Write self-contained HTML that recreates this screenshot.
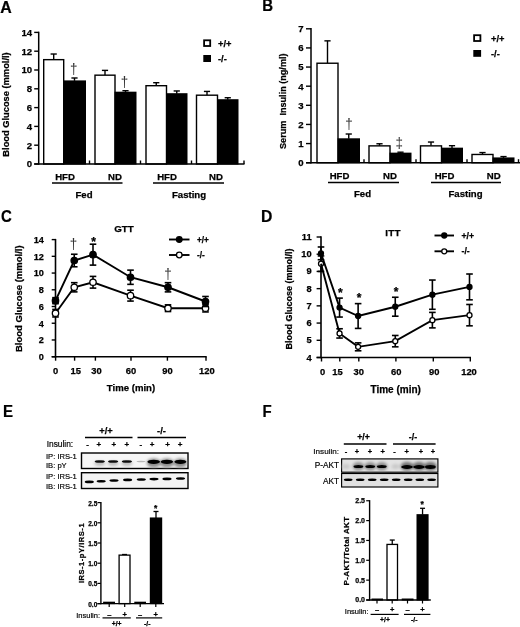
<!DOCTYPE html>
<html><head><meta charset="utf-8"><title>Figure</title>
<style>html,body{margin:0;padding:0;background:#fff}svg{display:block}text{font-family:"Liberation Sans",Arial,sans-serif}</style>
</head><body>
<svg width="520" height="627" viewBox="0 0 520 627">
<rect width="520" height="627" fill="#fff"/>
<text transform="translate(0.30,12.90) scale(1.06,1.05)" x="0" y="0" font-size="15" font-weight="bold" stroke="#000" stroke-width="0.2" text-anchor="start">A</text>
<line x1="53.70" y1="59.66" x2="53.70" y2="54.02" stroke="#000" stroke-width="1.4" stroke-linecap="butt"/>
<line x1="50.60" y1="54.02" x2="56.80" y2="54.02" stroke="#000" stroke-width="1.4" stroke-linecap="butt"/>
<rect x="43.70" y="59.66" width="20.00" height="104.34" fill="#fff" stroke="#000" stroke-width="1.4"/>
<line x1="74.50" y1="80.90" x2="74.50" y2="77.99" stroke="#000" stroke-width="1.4" stroke-linecap="butt"/>
<line x1="71.40" y1="77.99" x2="77.60" y2="77.99" stroke="#000" stroke-width="1.4" stroke-linecap="butt"/>
<rect x="63.00" y="80.40" width="23.00" height="84.10" fill="#000" stroke="none" stroke-width="0"/>
<line x1="105.00" y1="75.17" x2="105.00" y2="70.38" stroke="#000" stroke-width="1.4" stroke-linecap="butt"/>
<line x1="101.90" y1="70.38" x2="108.10" y2="70.38" stroke="#000" stroke-width="1.4" stroke-linecap="butt"/>
<rect x="95.00" y="75.17" width="20.00" height="88.83" fill="#fff" stroke="#000" stroke-width="1.4"/>
<line x1="125.50" y1="92.18" x2="125.50" y2="90.68" stroke="#000" stroke-width="1.4" stroke-linecap="butt"/>
<line x1="122.40" y1="90.68" x2="128.60" y2="90.68" stroke="#000" stroke-width="1.4" stroke-linecap="butt"/>
<rect x="114.50" y="91.68" width="22.00" height="72.82" fill="#000" stroke="none" stroke-width="0"/>
<line x1="156.25" y1="85.70" x2="156.25" y2="82.69" stroke="#000" stroke-width="1.4" stroke-linecap="butt"/>
<line x1="153.15" y1="82.69" x2="159.35" y2="82.69" stroke="#000" stroke-width="1.4" stroke-linecap="butt"/>
<rect x="146.00" y="85.70" width="20.50" height="78.30" fill="#fff" stroke="#000" stroke-width="1.4"/>
<line x1="176.75" y1="93.69" x2="176.75" y2="90.96" stroke="#000" stroke-width="1.4" stroke-linecap="butt"/>
<line x1="173.65" y1="90.96" x2="179.85" y2="90.96" stroke="#000" stroke-width="1.4" stroke-linecap="butt"/>
<rect x="166.00" y="93.19" width="21.50" height="71.31" fill="#000" stroke="none" stroke-width="0"/>
<line x1="207.00" y1="95.19" x2="207.00" y2="91.43" stroke="#000" stroke-width="1.4" stroke-linecap="butt"/>
<line x1="203.90" y1="91.43" x2="210.10" y2="91.43" stroke="#000" stroke-width="1.4" stroke-linecap="butt"/>
<rect x="196.50" y="95.19" width="21.00" height="68.81" fill="#fff" stroke="#000" stroke-width="1.4"/>
<line x1="227.75" y1="99.70" x2="227.75" y2="97.73" stroke="#000" stroke-width="1.4" stroke-linecap="butt"/>
<line x1="224.65" y1="97.73" x2="230.85" y2="97.73" stroke="#000" stroke-width="1.4" stroke-linecap="butt"/>
<rect x="217.00" y="99.20" width="21.50" height="65.30" fill="#000" stroke="none" stroke-width="0"/>
<line x1="38.70" y1="31.70" x2="38.70" y2="164.70" stroke="#000" stroke-width="1.5" stroke-linecap="butt"/>
<line x1="34.20" y1="164.00" x2="244.50" y2="164.00" stroke="#000" stroke-width="1.5" stroke-linecap="butt"/>
<line x1="34.20" y1="164.00" x2="38.70" y2="164.00" stroke="#000" stroke-width="1.4" stroke-linecap="butt"/>
<text x="32.10" y="167.40" font-size="9.6" font-weight="bold" stroke="#000" stroke-width="0.25" text-anchor="end" fill="#000" >0</text>
<line x1="34.20" y1="145.20" x2="38.70" y2="145.20" stroke="#000" stroke-width="1.4" stroke-linecap="butt"/>
<text x="32.10" y="148.60" font-size="9.6" font-weight="bold" stroke="#000" stroke-width="0.25" text-anchor="end" fill="#000" >2</text>
<line x1="34.20" y1="126.40" x2="38.70" y2="126.40" stroke="#000" stroke-width="1.4" stroke-linecap="butt"/>
<text x="32.10" y="129.80" font-size="9.6" font-weight="bold" stroke="#000" stroke-width="0.25" text-anchor="end" fill="#000" >4</text>
<line x1="34.20" y1="107.60" x2="38.70" y2="107.60" stroke="#000" stroke-width="1.4" stroke-linecap="butt"/>
<text x="32.10" y="111.00" font-size="9.6" font-weight="bold" stroke="#000" stroke-width="0.25" text-anchor="end" fill="#000" >6</text>
<line x1="34.20" y1="88.80" x2="38.70" y2="88.80" stroke="#000" stroke-width="1.4" stroke-linecap="butt"/>
<text x="32.10" y="92.20" font-size="9.6" font-weight="bold" stroke="#000" stroke-width="0.25" text-anchor="end" fill="#000" >8</text>
<line x1="34.20" y1="70.00" x2="38.70" y2="70.00" stroke="#000" stroke-width="1.4" stroke-linecap="butt"/>
<text x="32.10" y="73.40" font-size="9.6" font-weight="bold" stroke="#000" stroke-width="0.25" text-anchor="end" fill="#000" >10</text>
<line x1="34.20" y1="51.20" x2="38.70" y2="51.20" stroke="#000" stroke-width="1.4" stroke-linecap="butt"/>
<text x="32.10" y="54.60" font-size="9.6" font-weight="bold" stroke="#000" stroke-width="0.25" text-anchor="end" fill="#000" >12</text>
<line x1="34.20" y1="32.40" x2="38.70" y2="32.40" stroke="#000" stroke-width="1.4" stroke-linecap="butt"/>
<text x="32.10" y="35.80" font-size="9.6" font-weight="bold" stroke="#000" stroke-width="0.25" text-anchor="end" fill="#000" >14</text>
<line x1="89.50" y1="164.00" x2="89.50" y2="160.50" stroke="#000" stroke-width="1.4" stroke-linecap="butt"/>
<line x1="140.50" y1="164.00" x2="140.50" y2="160.50" stroke="#000" stroke-width="1.4" stroke-linecap="butt"/>
<line x1="191.50" y1="164.00" x2="191.50" y2="160.50" stroke="#000" stroke-width="1.4" stroke-linecap="butt"/>
<line x1="244.00" y1="164.00" x2="244.00" y2="160.50" stroke="#000" stroke-width="1.4" stroke-linecap="butt"/>
<text transform="translate(9.40,104.50) rotate(-90)" font-size="9.3" font-weight="bold" stroke="#000" stroke-width="0.25" text-anchor="middle" letter-spacing="0" xml:space="preserve">Blood Glucose (mmol/l)</text>
<text x="65.00" y="179.50" font-size="9.6" font-weight="bold" stroke="#000" stroke-width="0.25" text-anchor="middle" fill="#000" >HFD</text>
<text x="115.00" y="179.50" font-size="9.6" font-weight="bold" stroke="#000" stroke-width="0.25" text-anchor="middle" fill="#000" >ND</text>
<text x="167.00" y="179.50" font-size="9.6" font-weight="bold" stroke="#000" stroke-width="0.25" text-anchor="middle" fill="#000" >HFD</text>
<text x="216.00" y="179.50" font-size="9.6" font-weight="bold" stroke="#000" stroke-width="0.25" text-anchor="middle" fill="#000" >ND</text>
<line x1="52.00" y1="183.00" x2="122.50" y2="183.00" stroke="#000" stroke-width="1.3" stroke-linecap="butt"/>
<line x1="153.00" y1="183.00" x2="224.00" y2="183.00" stroke="#000" stroke-width="1.3" stroke-linecap="butt"/>
<text x="84.00" y="198.20" font-size="9.6" font-weight="bold" stroke="#000" stroke-width="0.25" text-anchor="middle" fill="#000" >Fed</text>
<text x="189.00" y="198.20" font-size="9.6" font-weight="bold" stroke="#000" stroke-width="0.25" text-anchor="middle" fill="#000" >Fasting</text>
<text transform="translate(73.80,62.60) scale(1.120,1.277)" x="0" y="8.65" font-size="12" text-anchor="middle" fill="#333">†</text>
<text transform="translate(124.60,75.80) scale(1.120,1.277)" x="0" y="8.65" font-size="12" text-anchor="middle" fill="#333">†</text>
<rect x="204.10" y="40.30" width="6.10" height="5.70" fill="#fff" stroke="#000" stroke-width="1.8"/>
<text x="218.00" y="47.30" font-size="9.3" font-weight="bold" stroke="#000" stroke-width="0.25" text-anchor="start" fill="#000" >+/+</text>
<rect x="203.30" y="55.00" width="7.70" height="7.00" fill="#000" stroke="none" stroke-width="0"/>
<text x="218.00" y="62.30" font-size="9.3" font-weight="bold" stroke="#000" stroke-width="0.25" text-anchor="start" fill="#000" >-/-</text>
<text transform="translate(262.20,10.90) scale(1.0,1.1)" x="0" y="0" font-size="15" font-weight="bold" stroke="#000" stroke-width="0.2" text-anchor="start">B</text>
<line x1="327.50" y1="63.23" x2="327.50" y2="40.85" stroke="#000" stroke-width="1.4" stroke-linecap="butt"/>
<line x1="324.40" y1="40.85" x2="330.60" y2="40.85" stroke="#000" stroke-width="1.4" stroke-linecap="butt"/>
<rect x="317.00" y="63.23" width="21.00" height="99.47" fill="#fff" stroke="#000" stroke-width="1.4"/>
<line x1="348.75" y1="138.79" x2="348.75" y2="134.01" stroke="#000" stroke-width="1.4" stroke-linecap="butt"/>
<line x1="345.65" y1="134.01" x2="351.85" y2="134.01" stroke="#000" stroke-width="1.4" stroke-linecap="butt"/>
<rect x="337.50" y="138.29" width="22.50" height="24.91" fill="#000" stroke="none" stroke-width="0"/>
<line x1="379.50" y1="145.87" x2="379.50" y2="143.76" stroke="#000" stroke-width="1.4" stroke-linecap="butt"/>
<line x1="376.40" y1="143.76" x2="382.60" y2="143.76" stroke="#000" stroke-width="1.4" stroke-linecap="butt"/>
<rect x="369.00" y="145.87" width="21.00" height="16.83" fill="#fff" stroke="#000" stroke-width="1.4"/>
<line x1="400.50" y1="153.14" x2="400.50" y2="152.18" stroke="#000" stroke-width="1.4" stroke-linecap="butt"/>
<line x1="397.40" y1="152.18" x2="403.60" y2="152.18" stroke="#000" stroke-width="1.4" stroke-linecap="butt"/>
<rect x="389.50" y="152.64" width="22.00" height="10.56" fill="#000" stroke="none" stroke-width="0"/>
<line x1="431.00" y1="145.87" x2="431.00" y2="142.04" stroke="#000" stroke-width="1.4" stroke-linecap="butt"/>
<line x1="427.90" y1="142.04" x2="434.10" y2="142.04" stroke="#000" stroke-width="1.4" stroke-linecap="butt"/>
<rect x="420.50" y="145.87" width="21.00" height="16.83" fill="#fff" stroke="#000" stroke-width="1.4"/>
<line x1="452.00" y1="148.16" x2="452.00" y2="145.68" stroke="#000" stroke-width="1.4" stroke-linecap="butt"/>
<line x1="448.90" y1="145.68" x2="455.10" y2="145.68" stroke="#000" stroke-width="1.4" stroke-linecap="butt"/>
<rect x="441.00" y="147.66" width="22.00" height="15.54" fill="#000" stroke="none" stroke-width="0"/>
<line x1="482.50" y1="154.47" x2="482.50" y2="152.56" stroke="#000" stroke-width="1.4" stroke-linecap="butt"/>
<line x1="479.40" y1="152.56" x2="485.60" y2="152.56" stroke="#000" stroke-width="1.4" stroke-linecap="butt"/>
<rect x="472.00" y="154.47" width="21.00" height="8.23" fill="#fff" stroke="#000" stroke-width="1.4"/>
<line x1="503.50" y1="157.92" x2="503.50" y2="156.58" stroke="#000" stroke-width="1.4" stroke-linecap="butt"/>
<line x1="500.40" y1="156.58" x2="506.60" y2="156.58" stroke="#000" stroke-width="1.4" stroke-linecap="butt"/>
<rect x="492.50" y="157.42" width="22.00" height="5.78" fill="#000" stroke="none" stroke-width="0"/>
<line x1="311.00" y1="28.10" x2="311.00" y2="163.40" stroke="#000" stroke-width="1.5" stroke-linecap="butt"/>
<line x1="306.00" y1="162.70" x2="520.00" y2="162.70" stroke="#000" stroke-width="1.5" stroke-linecap="butt"/>
<line x1="306.00" y1="162.70" x2="311.00" y2="162.70" stroke="#000" stroke-width="1.4" stroke-linecap="butt"/>
<text x="303.70" y="166.10" font-size="9.6" font-weight="bold" stroke="#000" stroke-width="0.25" text-anchor="end" fill="#000" >0</text>
<line x1="306.00" y1="143.57" x2="311.00" y2="143.57" stroke="#000" stroke-width="1.4" stroke-linecap="butt"/>
<text x="303.70" y="146.97" font-size="9.6" font-weight="bold" stroke="#000" stroke-width="0.25" text-anchor="end" fill="#000" >1</text>
<line x1="306.00" y1="124.44" x2="311.00" y2="124.44" stroke="#000" stroke-width="1.4" stroke-linecap="butt"/>
<text x="303.70" y="127.84" font-size="9.6" font-weight="bold" stroke="#000" stroke-width="0.25" text-anchor="end" fill="#000" >2</text>
<line x1="306.00" y1="105.31" x2="311.00" y2="105.31" stroke="#000" stroke-width="1.4" stroke-linecap="butt"/>
<text x="303.70" y="108.71" font-size="9.6" font-weight="bold" stroke="#000" stroke-width="0.25" text-anchor="end" fill="#000" >3</text>
<line x1="306.00" y1="86.19" x2="311.00" y2="86.19" stroke="#000" stroke-width="1.4" stroke-linecap="butt"/>
<text x="303.70" y="89.59" font-size="9.6" font-weight="bold" stroke="#000" stroke-width="0.25" text-anchor="end" fill="#000" >4</text>
<line x1="306.00" y1="67.06" x2="311.00" y2="67.06" stroke="#000" stroke-width="1.4" stroke-linecap="butt"/>
<text x="303.70" y="70.46" font-size="9.6" font-weight="bold" stroke="#000" stroke-width="0.25" text-anchor="end" fill="#000" >5</text>
<line x1="306.00" y1="47.93" x2="311.00" y2="47.93" stroke="#000" stroke-width="1.4" stroke-linecap="butt"/>
<text x="303.70" y="51.33" font-size="9.6" font-weight="bold" stroke="#000" stroke-width="0.25" text-anchor="end" fill="#000" >6</text>
<line x1="306.00" y1="28.80" x2="311.00" y2="28.80" stroke="#000" stroke-width="1.4" stroke-linecap="butt"/>
<text x="303.70" y="32.20" font-size="9.6" font-weight="bold" stroke="#000" stroke-width="0.25" text-anchor="end" fill="#000" >7</text>
<line x1="364.00" y1="162.70" x2="364.00" y2="159.20" stroke="#000" stroke-width="1.4" stroke-linecap="butt"/>
<line x1="416.00" y1="162.70" x2="416.00" y2="159.20" stroke="#000" stroke-width="1.4" stroke-linecap="butt"/>
<line x1="467.00" y1="162.70" x2="467.00" y2="159.20" stroke="#000" stroke-width="1.4" stroke-linecap="butt"/>
<line x1="518.50" y1="162.70" x2="518.50" y2="159.20" stroke="#000" stroke-width="1.4" stroke-linecap="butt"/>
<text transform="translate(286.00,101.20) rotate(-90)" font-size="9.1" font-weight="bold" stroke="#000" stroke-width="0.25" text-anchor="middle" letter-spacing="0" xml:space="preserve">Serum  Insulin (ng/ml)</text>
<text x="339.50" y="178.50" font-size="9.6" font-weight="bold" stroke="#000" stroke-width="0.25" text-anchor="middle" fill="#000" >HFD</text>
<text x="390.00" y="178.50" font-size="9.6" font-weight="bold" stroke="#000" stroke-width="0.25" text-anchor="middle" fill="#000" >ND</text>
<text x="444.50" y="178.50" font-size="9.6" font-weight="bold" stroke="#000" stroke-width="0.25" text-anchor="middle" fill="#000" >HFD</text>
<text x="493.70" y="178.50" font-size="9.6" font-weight="bold" stroke="#000" stroke-width="0.25" text-anchor="middle" fill="#000" >ND</text>
<line x1="328.00" y1="182.50" x2="399.00" y2="182.50" stroke="#000" stroke-width="1.3" stroke-linecap="butt"/>
<line x1="431.00" y1="182.50" x2="501.00" y2="182.50" stroke="#000" stroke-width="1.3" stroke-linecap="butt"/>
<text x="362.50" y="196.70" font-size="9.6" font-weight="bold" stroke="#000" stroke-width="0.25" text-anchor="middle" fill="#000" >Fed</text>
<text x="465.50" y="196.70" font-size="9.6" font-weight="bold" stroke="#000" stroke-width="0.25" text-anchor="middle" fill="#000" >Fasting</text>
<text transform="translate(349.00,117.80) scale(1.120,1.245)" x="0" y="8.65" font-size="12" text-anchor="middle" fill="#333">†</text>
<text transform="translate(399.20,136.90) scale(1.120,1.277)" x="0" y="8.65" font-size="12" text-anchor="middle" fill="#333">‡</text>
<rect x="474.10" y="35.20" width="6.30" height="5.80" fill="#fff" stroke="#000" stroke-width="1.8"/>
<text x="491.00" y="41.80" font-size="9.3" font-weight="bold" stroke="#000" stroke-width="0.25" text-anchor="start" fill="#000" >+/+</text>
<rect x="473.30" y="50.00" width="7.80" height="6.80" fill="#000" stroke="none" stroke-width="0"/>
<text x="491.00" y="57.20" font-size="9.3" font-weight="bold" stroke="#000" stroke-width="0.25" text-anchor="start" fill="#000" >-/-</text>
<text transform="translate(1.00,221.60) scale(1.0,1.08)" x="0" y="0" font-size="15" font-weight="bold" stroke="#000" stroke-width="0.2" text-anchor="start">C</text>
<line x1="55.50" y1="238.90" x2="55.50" y2="357.40" stroke="#000" stroke-width="1.6" stroke-linecap="butt"/>
<line x1="51.70" y1="356.70" x2="206.70" y2="356.70" stroke="#000" stroke-width="1.6" stroke-linecap="butt"/>
<line x1="51.70" y1="356.70" x2="55.50" y2="356.70" stroke="#000" stroke-width="1.4" stroke-linecap="butt"/>
<text x="43.90" y="360.00" font-size="9.1" font-weight="bold" stroke="#000" stroke-width="0.25" text-anchor="end" fill="#000" >0</text>
<line x1="51.70" y1="339.97" x2="55.50" y2="339.97" stroke="#000" stroke-width="1.4" stroke-linecap="butt"/>
<text x="43.90" y="343.27" font-size="9.1" font-weight="bold" stroke="#000" stroke-width="0.25" text-anchor="end" fill="#000" >2</text>
<line x1="51.70" y1="323.24" x2="55.50" y2="323.24" stroke="#000" stroke-width="1.4" stroke-linecap="butt"/>
<text x="43.90" y="326.54" font-size="9.1" font-weight="bold" stroke="#000" stroke-width="0.25" text-anchor="end" fill="#000" >4</text>
<line x1="51.70" y1="306.51" x2="55.50" y2="306.51" stroke="#000" stroke-width="1.4" stroke-linecap="butt"/>
<text x="43.90" y="309.81" font-size="9.1" font-weight="bold" stroke="#000" stroke-width="0.25" text-anchor="end" fill="#000" >6</text>
<line x1="51.70" y1="289.79" x2="55.50" y2="289.79" stroke="#000" stroke-width="1.4" stroke-linecap="butt"/>
<text x="43.90" y="293.09" font-size="9.1" font-weight="bold" stroke="#000" stroke-width="0.25" text-anchor="end" fill="#000" >8</text>
<line x1="51.70" y1="273.06" x2="55.50" y2="273.06" stroke="#000" stroke-width="1.4" stroke-linecap="butt"/>
<text x="43.90" y="276.36" font-size="9.1" font-weight="bold" stroke="#000" stroke-width="0.25" text-anchor="end" fill="#000" >10</text>
<line x1="51.70" y1="256.33" x2="55.50" y2="256.33" stroke="#000" stroke-width="1.4" stroke-linecap="butt"/>
<text x="43.90" y="259.63" font-size="9.1" font-weight="bold" stroke="#000" stroke-width="0.25" text-anchor="end" fill="#000" >12</text>
<line x1="51.70" y1="239.60" x2="55.50" y2="239.60" stroke="#000" stroke-width="1.4" stroke-linecap="butt"/>
<text x="43.90" y="242.90" font-size="9.1" font-weight="bold" stroke="#000" stroke-width="0.25" text-anchor="end" fill="#000" >14</text>
<line x1="55.60" y1="356.70" x2="55.60" y2="360.70" stroke="#000" stroke-width="1.4" stroke-linecap="butt"/>
<text x="55.60" y="373.50" font-size="9.4" font-weight="bold" stroke="#000" stroke-width="0.25" text-anchor="middle" fill="#000" >0</text>
<line x1="74.60" y1="356.70" x2="74.60" y2="360.70" stroke="#000" stroke-width="1.4" stroke-linecap="butt"/>
<text x="75.70" y="373.50" font-size="9.4" font-weight="bold" stroke="#000" stroke-width="0.25" text-anchor="middle" fill="#000" >15</text>
<line x1="95.40" y1="356.70" x2="95.40" y2="360.70" stroke="#000" stroke-width="1.4" stroke-linecap="butt"/>
<text x="96.40" y="373.50" font-size="9.4" font-weight="bold" stroke="#000" stroke-width="0.25" text-anchor="middle" fill="#000" >30</text>
<line x1="131.00" y1="356.70" x2="131.00" y2="360.70" stroke="#000" stroke-width="1.4" stroke-linecap="butt"/>
<text x="131.00" y="373.50" font-size="9.4" font-weight="bold" stroke="#000" stroke-width="0.25" text-anchor="middle" fill="#000" >60</text>
<line x1="167.40" y1="356.70" x2="167.40" y2="360.70" stroke="#000" stroke-width="1.4" stroke-linecap="butt"/>
<text x="167.40" y="373.50" font-size="9.4" font-weight="bold" stroke="#000" stroke-width="0.25" text-anchor="middle" fill="#000" >90</text>
<line x1="206.00" y1="356.70" x2="206.00" y2="360.70" stroke="#000" stroke-width="1.4" stroke-linecap="butt"/>
<text x="206.80" y="373.50" font-size="9.4" font-weight="bold" stroke="#000" stroke-width="0.25" text-anchor="middle" fill="#000" >120</text>
<text x="131.00" y="390.80" font-size="9.6" font-weight="bold" stroke="#000" stroke-width="0.25" text-anchor="middle" fill="#000" >Time (min)</text>
<text transform="translate(21.50,298.70) rotate(-90)" font-size="9.5" font-weight="bold" stroke="#000" stroke-width="0.25" text-anchor="middle" letter-spacing="0" xml:space="preserve">Blood Glucose (mmol/l)</text>
<text x="124.00" y="232.00" font-size="9.8" font-weight="bold" stroke="#000" stroke-width="0.25" text-anchor="middle" fill="#000" >GTT</text>
<line x1="55.50" y1="316.97" x2="55.50" y2="309.44" stroke="#000" stroke-width="1.6" stroke-linecap="butt"/>
<line x1="52.20" y1="309.44" x2="58.80" y2="309.44" stroke="#000" stroke-width="1.6" stroke-linecap="butt"/>
<line x1="52.20" y1="316.97" x2="58.80" y2="316.97" stroke="#000" stroke-width="1.6" stroke-linecap="butt"/>
<line x1="74.25" y1="291.88" x2="74.25" y2="282.68" stroke="#000" stroke-width="1.6" stroke-linecap="butt"/>
<line x1="70.95" y1="282.68" x2="77.55" y2="282.68" stroke="#000" stroke-width="1.6" stroke-linecap="butt"/>
<line x1="70.95" y1="291.88" x2="77.55" y2="291.88" stroke="#000" stroke-width="1.6" stroke-linecap="butt"/>
<line x1="93.00" y1="288.11" x2="93.00" y2="276.40" stroke="#000" stroke-width="1.6" stroke-linecap="butt"/>
<line x1="89.70" y1="276.40" x2="96.30" y2="276.40" stroke="#000" stroke-width="1.6" stroke-linecap="butt"/>
<line x1="89.70" y1="288.11" x2="96.30" y2="288.11" stroke="#000" stroke-width="1.6" stroke-linecap="butt"/>
<line x1="130.50" y1="301.08" x2="130.50" y2="290.20" stroke="#000" stroke-width="1.6" stroke-linecap="butt"/>
<line x1="127.20" y1="290.20" x2="133.80" y2="290.20" stroke="#000" stroke-width="1.6" stroke-linecap="butt"/>
<line x1="127.20" y1="301.08" x2="133.80" y2="301.08" stroke="#000" stroke-width="1.6" stroke-linecap="butt"/>
<line x1="168.00" y1="311.53" x2="168.00" y2="304.84" stroke="#000" stroke-width="1.6" stroke-linecap="butt"/>
<line x1="164.70" y1="304.84" x2="171.30" y2="304.84" stroke="#000" stroke-width="1.6" stroke-linecap="butt"/>
<line x1="164.70" y1="311.53" x2="171.30" y2="311.53" stroke="#000" stroke-width="1.6" stroke-linecap="butt"/>
<line x1="205.50" y1="311.95" x2="205.50" y2="304.42" stroke="#000" stroke-width="1.6" stroke-linecap="butt"/>
<line x1="202.20" y1="304.42" x2="208.80" y2="304.42" stroke="#000" stroke-width="1.6" stroke-linecap="butt"/>
<line x1="202.20" y1="311.95" x2="208.80" y2="311.95" stroke="#000" stroke-width="1.6" stroke-linecap="butt"/>
<polyline points="55.50,313.21 74.25,287.28 93.00,282.26 130.50,295.64 168.00,308.19 205.50,308.19" fill="none" stroke="#000" stroke-width="1.9"/>
<circle cx="55.50" cy="313.21" r="3.2" fill="#fff" stroke="#000" stroke-width="1.3"/>
<circle cx="74.25" cy="287.28" r="3.2" fill="#fff" stroke="#000" stroke-width="1.3"/>
<circle cx="93.00" cy="282.26" r="3.2" fill="#fff" stroke="#000" stroke-width="1.3"/>
<circle cx="130.50" cy="295.64" r="3.2" fill="#fff" stroke="#000" stroke-width="1.3"/>
<circle cx="168.00" cy="308.19" r="3.2" fill="#fff" stroke="#000" stroke-width="1.3"/>
<circle cx="205.50" cy="308.19" r="3.2" fill="#fff" stroke="#000" stroke-width="1.3"/>
<line x1="55.50" y1="303.67" x2="55.50" y2="297.65" stroke="#000" stroke-width="1.6" stroke-linecap="butt"/>
<line x1="52.20" y1="297.65" x2="58.80" y2="297.65" stroke="#000" stroke-width="1.6" stroke-linecap="butt"/>
<line x1="52.20" y1="303.67" x2="58.80" y2="303.67" stroke="#000" stroke-width="1.6" stroke-linecap="butt"/>
<line x1="74.25" y1="266.78" x2="74.25" y2="254.24" stroke="#000" stroke-width="1.6" stroke-linecap="butt"/>
<line x1="70.95" y1="254.24" x2="77.55" y2="254.24" stroke="#000" stroke-width="1.6" stroke-linecap="butt"/>
<line x1="70.95" y1="266.78" x2="77.55" y2="266.78" stroke="#000" stroke-width="1.6" stroke-linecap="butt"/>
<line x1="93.00" y1="265.11" x2="93.00" y2="244.20" stroke="#000" stroke-width="1.6" stroke-linecap="butt"/>
<line x1="89.70" y1="244.20" x2="96.30" y2="244.20" stroke="#000" stroke-width="1.6" stroke-linecap="butt"/>
<line x1="89.70" y1="265.11" x2="96.30" y2="265.11" stroke="#000" stroke-width="1.6" stroke-linecap="butt"/>
<line x1="130.50" y1="284.35" x2="130.50" y2="270.13" stroke="#000" stroke-width="1.6" stroke-linecap="butt"/>
<line x1="127.20" y1="270.13" x2="133.80" y2="270.13" stroke="#000" stroke-width="1.6" stroke-linecap="butt"/>
<line x1="127.20" y1="284.35" x2="133.80" y2="284.35" stroke="#000" stroke-width="1.6" stroke-linecap="butt"/>
<line x1="168.00" y1="291.88" x2="168.00" y2="282.68" stroke="#000" stroke-width="1.6" stroke-linecap="butt"/>
<line x1="164.70" y1="282.68" x2="171.30" y2="282.68" stroke="#000" stroke-width="1.6" stroke-linecap="butt"/>
<line x1="164.70" y1="291.88" x2="171.30" y2="291.88" stroke="#000" stroke-width="1.6" stroke-linecap="butt"/>
<line x1="205.50" y1="306.51" x2="205.50" y2="296.48" stroke="#000" stroke-width="1.6" stroke-linecap="butt"/>
<line x1="202.20" y1="296.48" x2="208.80" y2="296.48" stroke="#000" stroke-width="1.6" stroke-linecap="butt"/>
<line x1="202.20" y1="306.51" x2="208.80" y2="306.51" stroke="#000" stroke-width="1.6" stroke-linecap="butt"/>
<polyline points="55.50,300.66 74.25,260.51 93.00,254.66 130.50,277.24 168.00,287.28 205.50,301.50" fill="none" stroke="#000" stroke-width="1.9"/>
<circle cx="55.50" cy="300.66" r="3.2" fill="#000" stroke="#000" stroke-width="1.3"/>
<circle cx="74.25" cy="260.51" r="3.2" fill="#000" stroke="#000" stroke-width="1.3"/>
<circle cx="93.00" cy="254.66" r="3.2" fill="#000" stroke="#000" stroke-width="1.3"/>
<circle cx="130.50" cy="277.24" r="3.2" fill="#000" stroke="#000" stroke-width="1.3"/>
<circle cx="168.00" cy="287.28" r="3.2" fill="#000" stroke="#000" stroke-width="1.3"/>
<circle cx="205.50" cy="301.50" r="3.2" fill="#000" stroke="#000" stroke-width="1.3"/>
<text transform="translate(73.40,238.20) scale(1.120,1.223)" x="0" y="8.65" font-size="12" text-anchor="middle" fill="#333">†</text>
<text x="93.50" y="246.00" font-size="12" font-weight="bold" stroke="#000" stroke-width="0.25" text-anchor="middle" fill="#000" >*</text>
<text transform="translate(168.00,268.20) scale(1.120,1.202)" x="0" y="8.65" font-size="12" text-anchor="middle" fill="#333">†</text>
<line x1="169.00" y1="239.50" x2="189.50" y2="239.50" stroke="#000" stroke-width="1.9" stroke-linecap="butt"/>
<circle cx="179.25" cy="239.50" r="2.8" fill="#000" stroke="#000" stroke-width="1.3"/>
<text x="197.00" y="242.50" font-size="8.2" font-weight="bold" stroke="#000" stroke-width="0.25" text-anchor="start" fill="#000" >+/+</text>
<line x1="169.00" y1="255.00" x2="189.50" y2="255.00" stroke="#000" stroke-width="1.9" stroke-linecap="butt"/>
<circle cx="179.25" cy="255.00" r="2.8" fill="#fff" stroke="#000" stroke-width="1.3"/>
<text x="197.00" y="258.00" font-size="8.2" font-weight="bold" stroke="#000" stroke-width="0.25" text-anchor="start" fill="#000" >-/-</text>
<text transform="translate(261.00,221.80) scale(1.05,1.1)" x="0" y="0" font-size="15" font-weight="bold" stroke="#000" stroke-width="0.2" text-anchor="start">D</text>
<line x1="321.00" y1="236.30" x2="321.00" y2="358.20" stroke="#000" stroke-width="1.6" stroke-linecap="butt"/>
<line x1="316.60" y1="357.50" x2="471.00" y2="357.50" stroke="#000" stroke-width="1.6" stroke-linecap="butt"/>
<line x1="316.60" y1="357.50" x2="321.00" y2="357.50" stroke="#000" stroke-width="1.4" stroke-linecap="butt"/>
<text x="311.70" y="360.50" font-size="9.3" font-weight="bold" stroke="#000" stroke-width="0.25" text-anchor="end" fill="#000" >4</text>
<line x1="316.60" y1="340.29" x2="321.00" y2="340.29" stroke="#000" stroke-width="1.4" stroke-linecap="butt"/>
<text x="311.70" y="343.29" font-size="9.3" font-weight="bold" stroke="#000" stroke-width="0.25" text-anchor="end" fill="#000" >5</text>
<line x1="316.60" y1="323.07" x2="321.00" y2="323.07" stroke="#000" stroke-width="1.4" stroke-linecap="butt"/>
<text x="311.70" y="326.07" font-size="9.3" font-weight="bold" stroke="#000" stroke-width="0.25" text-anchor="end" fill="#000" >6</text>
<line x1="316.60" y1="305.86" x2="321.00" y2="305.86" stroke="#000" stroke-width="1.4" stroke-linecap="butt"/>
<text x="311.70" y="308.86" font-size="9.3" font-weight="bold" stroke="#000" stroke-width="0.25" text-anchor="end" fill="#000" >7</text>
<line x1="316.60" y1="288.64" x2="321.00" y2="288.64" stroke="#000" stroke-width="1.4" stroke-linecap="butt"/>
<text x="311.70" y="291.64" font-size="9.3" font-weight="bold" stroke="#000" stroke-width="0.25" text-anchor="end" fill="#000" >8</text>
<line x1="316.60" y1="271.43" x2="321.00" y2="271.43" stroke="#000" stroke-width="1.4" stroke-linecap="butt"/>
<text x="311.70" y="274.43" font-size="9.3" font-weight="bold" stroke="#000" stroke-width="0.25" text-anchor="end" fill="#000" >9</text>
<line x1="316.60" y1="254.21" x2="321.00" y2="254.21" stroke="#000" stroke-width="1.4" stroke-linecap="butt"/>
<text x="311.70" y="257.21" font-size="9.3" font-weight="bold" stroke="#000" stroke-width="0.25" text-anchor="end" fill="#000" >10</text>
<line x1="316.60" y1="237.00" x2="321.00" y2="237.00" stroke="#000" stroke-width="1.4" stroke-linecap="butt"/>
<text x="311.70" y="240.00" font-size="9.3" font-weight="bold" stroke="#000" stroke-width="0.25" text-anchor="end" fill="#000" >11</text>
<line x1="321.50" y1="357.50" x2="321.50" y2="361.50" stroke="#000" stroke-width="1.4" stroke-linecap="butt"/>
<text x="322.50" y="375.20" font-size="9.4" font-weight="bold" stroke="#000" stroke-width="0.25" text-anchor="middle" fill="#000" >0</text>
<line x1="339.80" y1="357.50" x2="339.80" y2="361.50" stroke="#000" stroke-width="1.4" stroke-linecap="butt"/>
<text x="337.40" y="375.20" font-size="9.4" font-weight="bold" stroke="#000" stroke-width="0.25" text-anchor="middle" fill="#000" >15</text>
<line x1="358.80" y1="357.50" x2="358.80" y2="361.50" stroke="#000" stroke-width="1.4" stroke-linecap="butt"/>
<text x="358.80" y="375.20" font-size="9.4" font-weight="bold" stroke="#000" stroke-width="0.25" text-anchor="middle" fill="#000" >30</text>
<line x1="395.90" y1="357.50" x2="395.90" y2="361.50" stroke="#000" stroke-width="1.4" stroke-linecap="butt"/>
<text x="396.20" y="375.20" font-size="9.4" font-weight="bold" stroke="#000" stroke-width="0.25" text-anchor="middle" fill="#000" >60</text>
<line x1="433.30" y1="357.50" x2="433.30" y2="361.50" stroke="#000" stroke-width="1.4" stroke-linecap="butt"/>
<text x="434.30" y="375.20" font-size="9.4" font-weight="bold" stroke="#000" stroke-width="0.25" text-anchor="middle" fill="#000" >90</text>
<line x1="470.30" y1="357.50" x2="470.30" y2="361.50" stroke="#000" stroke-width="1.4" stroke-linecap="butt"/>
<text x="469.00" y="375.20" font-size="9.4" font-weight="bold" stroke="#000" stroke-width="0.25" text-anchor="middle" fill="#000" >120</text>
<text x="395.70" y="392.80" font-size="10" font-weight="bold" stroke="#000" stroke-width="0.25" text-anchor="middle" fill="#000" >Time (min)</text>
<text transform="translate(291.50,299.00) rotate(-90)" font-size="9" font-weight="bold" stroke="#000" stroke-width="0.25" text-anchor="middle" letter-spacing="0" xml:space="preserve">Blood Glucose (mmol/l)</text>
<text x="393.00" y="236.30" font-size="9.8" font-weight="bold" stroke="#000" stroke-width="0.25" text-anchor="middle" fill="#000" letter-spacing="0.2">ITT</text>
<line x1="321.00" y1="271.43" x2="321.00" y2="255.94" stroke="#000" stroke-width="1.6" stroke-linecap="butt"/>
<line x1="317.70" y1="255.94" x2="324.30" y2="255.94" stroke="#000" stroke-width="1.6" stroke-linecap="butt"/>
<line x1="317.70" y1="271.43" x2="324.30" y2="271.43" stroke="#000" stroke-width="1.6" stroke-linecap="butt"/>
<line x1="339.56" y1="338.05" x2="339.56" y2="328.75" stroke="#000" stroke-width="1.6" stroke-linecap="butt"/>
<line x1="336.26" y1="328.75" x2="342.86" y2="328.75" stroke="#000" stroke-width="1.6" stroke-linecap="butt"/>
<line x1="336.26" y1="338.05" x2="342.86" y2="338.05" stroke="#000" stroke-width="1.6" stroke-linecap="butt"/>
<line x1="358.12" y1="350.79" x2="358.12" y2="342.87" stroke="#000" stroke-width="1.6" stroke-linecap="butt"/>
<line x1="354.82" y1="342.87" x2="361.43" y2="342.87" stroke="#000" stroke-width="1.6" stroke-linecap="butt"/>
<line x1="354.82" y1="350.79" x2="361.43" y2="350.79" stroke="#000" stroke-width="1.6" stroke-linecap="butt"/>
<line x1="395.25" y1="346.83" x2="395.25" y2="335.47" stroke="#000" stroke-width="1.6" stroke-linecap="butt"/>
<line x1="391.95" y1="335.47" x2="398.55" y2="335.47" stroke="#000" stroke-width="1.6" stroke-linecap="butt"/>
<line x1="391.95" y1="346.83" x2="398.55" y2="346.83" stroke="#000" stroke-width="1.6" stroke-linecap="butt"/>
<line x1="432.38" y1="327.89" x2="432.38" y2="312.40" stroke="#000" stroke-width="1.6" stroke-linecap="butt"/>
<line x1="429.07" y1="312.40" x2="435.68" y2="312.40" stroke="#000" stroke-width="1.6" stroke-linecap="butt"/>
<line x1="429.07" y1="327.89" x2="435.68" y2="327.89" stroke="#000" stroke-width="1.6" stroke-linecap="butt"/>
<line x1="469.50" y1="325.83" x2="469.50" y2="304.48" stroke="#000" stroke-width="1.6" stroke-linecap="butt"/>
<line x1="466.20" y1="304.48" x2="472.80" y2="304.48" stroke="#000" stroke-width="1.6" stroke-linecap="butt"/>
<line x1="466.20" y1="325.83" x2="472.80" y2="325.83" stroke="#000" stroke-width="1.6" stroke-linecap="butt"/>
<circle cx="321.00" cy="263.68" r="2.5" fill="#fff" stroke="#000" stroke-width="1.3"/>
<polyline points="321.00,263.68 339.56,333.40 358.12,346.83 395.25,341.15 432.38,320.14 469.50,315.15" fill="none" stroke="#000" stroke-width="1.9"/>
<circle cx="339.56" cy="333.40" r="2.5" fill="#fff" stroke="#000" stroke-width="1.3"/>
<circle cx="358.12" cy="346.83" r="2.5" fill="#fff" stroke="#000" stroke-width="1.3"/>
<circle cx="395.25" cy="341.15" r="2.5" fill="#fff" stroke="#000" stroke-width="1.3"/>
<circle cx="432.38" cy="320.14" r="2.5" fill="#fff" stroke="#000" stroke-width="1.3"/>
<circle cx="469.50" cy="315.15" r="2.5" fill="#fff" stroke="#000" stroke-width="1.3"/>
<line x1="321.00" y1="259.72" x2="321.00" y2="246.98" stroke="#000" stroke-width="1.6" stroke-linecap="butt"/>
<line x1="317.70" y1="246.98" x2="324.30" y2="246.98" stroke="#000" stroke-width="1.6" stroke-linecap="butt"/>
<line x1="317.70" y1="259.72" x2="324.30" y2="259.72" stroke="#000" stroke-width="1.6" stroke-linecap="butt"/>
<line x1="339.56" y1="317.05" x2="339.56" y2="298.11" stroke="#000" stroke-width="1.6" stroke-linecap="butt"/>
<line x1="336.26" y1="298.11" x2="342.86" y2="298.11" stroke="#000" stroke-width="1.6" stroke-linecap="butt"/>
<line x1="336.26" y1="317.05" x2="342.86" y2="317.05" stroke="#000" stroke-width="1.6" stroke-linecap="butt"/>
<line x1="358.12" y1="328.41" x2="358.12" y2="303.62" stroke="#000" stroke-width="1.6" stroke-linecap="butt"/>
<line x1="354.82" y1="303.62" x2="361.43" y2="303.62" stroke="#000" stroke-width="1.6" stroke-linecap="butt"/>
<line x1="354.82" y1="328.41" x2="361.43" y2="328.41" stroke="#000" stroke-width="1.6" stroke-linecap="butt"/>
<line x1="395.25" y1="316.19" x2="395.25" y2="297.25" stroke="#000" stroke-width="1.6" stroke-linecap="butt"/>
<line x1="391.95" y1="297.25" x2="398.55" y2="297.25" stroke="#000" stroke-width="1.6" stroke-linecap="butt"/>
<line x1="391.95" y1="316.19" x2="398.55" y2="316.19" stroke="#000" stroke-width="1.6" stroke-linecap="butt"/>
<line x1="432.38" y1="309.30" x2="432.38" y2="280.04" stroke="#000" stroke-width="1.6" stroke-linecap="butt"/>
<line x1="429.07" y1="280.04" x2="435.68" y2="280.04" stroke="#000" stroke-width="1.6" stroke-linecap="butt"/>
<line x1="429.07" y1="309.30" x2="435.68" y2="309.30" stroke="#000" stroke-width="1.6" stroke-linecap="butt"/>
<line x1="469.50" y1="299.83" x2="469.50" y2="274.01" stroke="#000" stroke-width="1.6" stroke-linecap="butt"/>
<line x1="466.20" y1="274.01" x2="472.80" y2="274.01" stroke="#000" stroke-width="1.6" stroke-linecap="butt"/>
<line x1="466.20" y1="299.83" x2="472.80" y2="299.83" stroke="#000" stroke-width="1.6" stroke-linecap="butt"/>
<polyline points="321.00,253.35 339.56,307.58 358.12,316.01 395.25,306.72 432.38,294.67 469.50,286.92" fill="none" stroke="#000" stroke-width="1.9"/>
<circle cx="321.00" cy="253.35" r="2.5" fill="#000" stroke="#000" stroke-width="1.3"/>
<circle cx="339.56" cy="307.58" r="2.5" fill="#000" stroke="#000" stroke-width="1.3"/>
<circle cx="358.12" cy="316.01" r="2.5" fill="#000" stroke="#000" stroke-width="1.3"/>
<circle cx="395.25" cy="306.72" r="2.5" fill="#000" stroke="#000" stroke-width="1.3"/>
<circle cx="432.38" cy="294.67" r="2.5" fill="#000" stroke="#000" stroke-width="1.3"/>
<circle cx="469.50" cy="286.92" r="2.5" fill="#000" stroke="#000" stroke-width="1.3"/>
<text x="340.40" y="296.70" font-size="12" font-weight="bold" stroke="#000" stroke-width="0.25" text-anchor="middle" fill="#000" >*</text>
<text x="359.00" y="301.80" font-size="12" font-weight="bold" stroke="#000" stroke-width="0.25" text-anchor="middle" fill="#000" >*</text>
<text x="396.00" y="296.20" font-size="12" font-weight="bold" stroke="#000" stroke-width="0.25" text-anchor="middle" fill="#000" >*</text>
<line x1="434.50" y1="235.50" x2="454.00" y2="235.50" stroke="#000" stroke-width="1.9" stroke-linecap="butt"/>
<circle cx="444.25" cy="235.50" r="2.5" fill="#000" stroke="#000" stroke-width="1.3"/>
<text x="461.50" y="238.50" font-size="8.7" font-weight="bold" stroke="#000" stroke-width="0.25" text-anchor="start" fill="#000" >+/+</text>
<line x1="434.50" y1="251.30" x2="454.00" y2="251.30" stroke="#000" stroke-width="1.9" stroke-linecap="butt"/>
<circle cx="444.25" cy="251.30" r="2.5" fill="#fff" stroke="#000" stroke-width="1.3"/>
<text x="461.50" y="254.30" font-size="8.7" font-weight="bold" stroke="#000" stroke-width="0.25" text-anchor="start" fill="#000" >-/-</text>
<text transform="translate(3.10,416.60) scale(1.0,1.13)" x="0" y="0" font-size="15" font-weight="bold" stroke="#000" stroke-width="0.2" text-anchor="start">E</text>
<text x="106.00" y="434.30" font-size="9.3" font-weight="bold" stroke="#000" stroke-width="0.25" text-anchor="middle" fill="#000" >+/+</text>
<text x="161.50" y="434.30" font-size="9.3" font-weight="bold" stroke="#000" stroke-width="0.25" text-anchor="middle" fill="#000" >-/-</text>
<line x1="85.00" y1="437.50" x2="132.50" y2="437.50" stroke="#000" stroke-width="1.3" stroke-linecap="butt"/>
<line x1="137.50" y1="437.50" x2="186.00" y2="437.50" stroke="#000" stroke-width="1.3" stroke-linecap="butt"/>
<text x="73.20" y="447.40" font-size="8.4" stroke="#000" stroke-width="0.18" text-anchor="end" fill="#000" >Insulin:</text>
<text x="87.50" y="447.00" font-size="8" font-weight="bold" stroke="#000" stroke-width="0.25" text-anchor="middle" fill="#000" >-</text>
<text x="98.80" y="447.00" font-size="8" font-weight="bold" stroke="#000" stroke-width="0.25" text-anchor="middle" fill="#000" >+</text>
<text x="113.80" y="447.00" font-size="8" font-weight="bold" stroke="#000" stroke-width="0.25" text-anchor="middle" fill="#000" >+</text>
<text x="126.80" y="447.00" font-size="8" font-weight="bold" stroke="#000" stroke-width="0.25" text-anchor="middle" fill="#000" >+</text>
<text x="140.80" y="447.00" font-size="8" font-weight="bold" stroke="#000" stroke-width="0.25" text-anchor="middle" fill="#000" >-</text>
<text x="152.00" y="447.00" font-size="8" font-weight="bold" stroke="#000" stroke-width="0.25" text-anchor="middle" fill="#000" >+</text>
<text x="167.50" y="447.00" font-size="8" font-weight="bold" stroke="#000" stroke-width="0.25" text-anchor="middle" fill="#000" >+</text>
<text x="180.00" y="447.00" font-size="8" font-weight="bold" stroke="#000" stroke-width="0.25" text-anchor="middle" fill="#000" >+</text>
<text x="46.00" y="459.20" font-size="7.6" stroke="#000" stroke-width="0.18" text-anchor="start" fill="#000" >IP: IRS-1</text>
<text x="46.00" y="467.80" font-size="7.6" stroke="#000" stroke-width="0.18" text-anchor="start" fill="#000" >IB: pY</text>
<text x="46.00" y="478.70" font-size="7.6" stroke="#000" stroke-width="0.18" text-anchor="start" fill="#000" >IP: IRS-1</text>
<text x="46.00" y="489.20" font-size="7.6" stroke="#000" stroke-width="0.18" text-anchor="start" fill="#000" >IB: IRS-1</text>
<defs><filter id="bl" x="-20%" y="-60%" width="140%" height="220%"><feGaussianBlur stdDeviation="0.7"/></filter><filter id="bl2" x="-20%" y="-60%" width="140%" height="220%"><feGaussianBlur stdDeviation="1.4"/></filter><filter id="bl3" x="-20%" y="-60%" width="140%" height="220%"><feGaussianBlur stdDeviation="0.95"/></filter></defs>
<rect x="81.50" y="453.00" width="106.50" height="15.50" fill="#f6f6f6" stroke="#000" stroke-width="1.4"/>
<rect x="81.50" y="472.70" width="106.50" height="15.80" fill="#f3f3f3" stroke="#000" stroke-width="1.4"/>
<g filter="url(#bl2)">
<ellipse cx="99.8" cy="463.5" rx="5.5" ry="2.6" fill="#bdbdbd"/>
<ellipse cx="113.1" cy="463.5" rx="5.5" ry="2.6" fill="#bdbdbd"/>
<ellipse cx="126.9" cy="463.5" rx="5.5" ry="2.6" fill="#bdbdbd"/>
<ellipse cx="153.7" cy="463" rx="7" ry="4.6" fill="#8c8c8c"/>
<ellipse cx="166.9" cy="463" rx="7" ry="4.6" fill="#8c8c8c"/>
<ellipse cx="180.4" cy="463" rx="6.6" ry="4.6" fill="#8c8c8c"/>
</g>
<g filter="url(#bl)">
<ellipse cx="99.8" cy="461.5" rx="5.1" ry="1.35" fill="#0a0a0a"/>
<ellipse cx="113.1" cy="461.5" rx="5.1" ry="1.35" fill="#0a0a0a"/>
<ellipse cx="126.9" cy="461.5" rx="5.1" ry="1.35" fill="#0a0a0a"/>
<ellipse cx="141" cy="461.5" rx="4.5" ry="0.8" fill="#b8b8b8"/>
<ellipse cx="153.7" cy="461.8" rx="6.3" ry="2.1" fill="#000"/>
<ellipse cx="166.9" cy="461.8" rx="6.2" ry="2.1" fill="#000"/>
<ellipse cx="180.4" cy="461.8" rx="6.0" ry="2.1" fill="#000"/>
<ellipse cx="89.3" cy="481.9" rx="4.6" ry="1.3" fill="#000"/>
<ellipse cx="101.2" cy="481.3" rx="4.6" ry="1.3" fill="#000"/>
<ellipse cx="114" cy="480.5" rx="4.6" ry="1.3" fill="#000"/>
<ellipse cx="127.6" cy="479.9" rx="4.6" ry="1.3" fill="#000"/>
<ellipse cx="141.3" cy="479.5" rx="4.6" ry="1.3" fill="#000"/>
<ellipse cx="154" cy="479.1" rx="4.6" ry="1.3" fill="#000"/>
<ellipse cx="167" cy="478.9" rx="4.6" ry="1.3" fill="#000"/>
<ellipse cx="180.5" cy="478.5" rx="4.6" ry="1.3" fill="#000"/>
</g>
<rect x="103.10" y="601.69" width="11.90" height="2.41" fill="#000" stroke="none" stroke-width="0"/>
<line x1="124.55" y1="555.12" x2="124.55" y2="554.51" stroke="#000" stroke-width="1.3" stroke-linecap="butt"/>
<line x1="122.05" y1="554.51" x2="127.05" y2="554.51" stroke="#000" stroke-width="1.3" stroke-linecap="butt"/>
<rect x="119.10" y="555.12" width="10.90" height="48.48" fill="#fff" stroke="#000" stroke-width="1.3"/>
<rect x="134.30" y="601.69" width="11.70" height="2.41" fill="#000" stroke="none" stroke-width="0"/>
<line x1="156.00" y1="517.95" x2="156.00" y2="511.49" stroke="#000" stroke-width="1.3" stroke-linecap="butt"/>
<line x1="153.50" y1="511.49" x2="158.50" y2="511.49" stroke="#000" stroke-width="1.3" stroke-linecap="butt"/>
<rect x="149.80" y="517.45" width="12.40" height="86.65" fill="#000" stroke="none" stroke-width="0"/>
<line x1="100.90" y1="502.00" x2="100.90" y2="604.20" stroke="#000" stroke-width="1.4" stroke-linecap="butt"/>
<line x1="97.50" y1="603.60" x2="164.00" y2="603.60" stroke="#000" stroke-width="1.4" stroke-linecap="butt"/>
<line x1="97.50" y1="603.60" x2="100.90" y2="603.60" stroke="#000" stroke-width="1.2" stroke-linecap="butt"/>
<text x="97.30" y="606.50" font-size="6.5" font-weight="bold" stroke="#000" stroke-width="0.25" text-anchor="end" fill="#000" >0.0</text>
<line x1="97.50" y1="583.40" x2="100.90" y2="583.40" stroke="#000" stroke-width="1.2" stroke-linecap="butt"/>
<text x="97.30" y="586.30" font-size="6.5" font-weight="bold" stroke="#000" stroke-width="0.25" text-anchor="end" fill="#000" >0.5</text>
<line x1="97.50" y1="563.20" x2="100.90" y2="563.20" stroke="#000" stroke-width="1.2" stroke-linecap="butt"/>
<text x="97.30" y="566.10" font-size="6.5" font-weight="bold" stroke="#000" stroke-width="0.25" text-anchor="end" fill="#000" >1.0</text>
<line x1="97.50" y1="543.00" x2="100.90" y2="543.00" stroke="#000" stroke-width="1.2" stroke-linecap="butt"/>
<text x="97.30" y="545.90" font-size="6.5" font-weight="bold" stroke="#000" stroke-width="0.25" text-anchor="end" fill="#000" >1.5</text>
<line x1="97.50" y1="522.80" x2="100.90" y2="522.80" stroke="#000" stroke-width="1.2" stroke-linecap="butt"/>
<text x="97.30" y="525.70" font-size="6.5" font-weight="bold" stroke="#000" stroke-width="0.25" text-anchor="end" fill="#000" >2.0</text>
<line x1="97.50" y1="502.60" x2="100.90" y2="502.60" stroke="#000" stroke-width="1.2" stroke-linecap="butt"/>
<text x="97.30" y="505.50" font-size="6.5" font-weight="bold" stroke="#000" stroke-width="0.25" text-anchor="end" fill="#000" >2.5</text>
<line x1="109.20" y1="603.60" x2="109.20" y2="607.10" stroke="#000" stroke-width="1.2" stroke-linecap="butt"/>
<line x1="124.70" y1="603.60" x2="124.70" y2="607.10" stroke="#000" stroke-width="1.2" stroke-linecap="butt"/>
<line x1="140.20" y1="603.60" x2="140.20" y2="607.10" stroke="#000" stroke-width="1.2" stroke-linecap="butt"/>
<line x1="155.80" y1="603.60" x2="155.80" y2="607.10" stroke="#000" stroke-width="1.2" stroke-linecap="butt"/>
<text transform="translate(84.30,553.00) rotate(-90)" font-size="7.5" font-weight="bold" stroke="#000" stroke-width="0.25" text-anchor="middle" letter-spacing="0.55" xml:space="preserve">IRS-1-pY/IRS-1</text>
<text x="155.60" y="511.20" font-size="8.5" font-weight="bold" stroke="#000" stroke-width="0.25" text-anchor="middle" fill="#000" >*</text>
<text x="100.00" y="618.00" font-size="7.5" stroke="#000" stroke-width="0.18" text-anchor="end" fill="#000" >Insulin:</text>
<text x="109.40" y="616.80" font-size="7.5" font-weight="bold" stroke="#000" stroke-width="0.25" text-anchor="middle" fill="#000" >–</text>
<text x="124.70" y="616.80" font-size="7.5" font-weight="bold" stroke="#000" stroke-width="0.25" text-anchor="middle" fill="#000" >+</text>
<text x="140.20" y="616.80" font-size="7.5" font-weight="bold" stroke="#000" stroke-width="0.25" text-anchor="middle" fill="#000" >–</text>
<text x="155.80" y="616.80" font-size="7.5" font-weight="bold" stroke="#000" stroke-width="0.25" text-anchor="middle" fill="#000" >+</text>
<line x1="102.50" y1="617.90" x2="130.80" y2="617.90" stroke="#000" stroke-width="1.2" stroke-linecap="butt"/>
<line x1="136.00" y1="617.90" x2="162.20" y2="617.90" stroke="#000" stroke-width="1.2" stroke-linecap="butt"/>
<text x="116.60" y="625.50" font-size="6.8" font-weight="bold" stroke="#000" stroke-width="0.25" text-anchor="middle" fill="#000" >+/+</text>
<text x="147.30" y="625.50" font-size="6.8" font-weight="bold" stroke="#000" stroke-width="0.25" text-anchor="middle" fill="#000" >-/-</text>
<text transform="translate(262.50,416.60) scale(1.0,1.1)" x="0" y="0" font-size="15" font-weight="bold" stroke="#000" stroke-width="0.2" text-anchor="start">F</text>
<text x="363.50" y="440.30" font-size="8.8" font-weight="bold" stroke="#000" stroke-width="0.25" text-anchor="middle" fill="#000" >+/+</text>
<text x="413.00" y="440.30" font-size="8.8" font-weight="bold" stroke="#000" stroke-width="0.25" text-anchor="middle" fill="#000" >-/-</text>
<line x1="343.80" y1="444.00" x2="386.50" y2="444.00" stroke="#000" stroke-width="1.3" stroke-linecap="butt"/>
<line x1="393.00" y1="444.00" x2="435.60" y2="444.00" stroke="#000" stroke-width="1.3" stroke-linecap="butt"/>
<text x="339.00" y="453.80" font-size="8.1" stroke="#000" stroke-width="0.18" text-anchor="end" fill="#000" >Insulin:</text>
<text x="346.00" y="453.60" font-size="7.5" font-weight="bold" stroke="#000" stroke-width="0.25" text-anchor="middle" fill="#000" >-</text>
<text x="357.00" y="453.60" font-size="7.5" font-weight="bold" stroke="#000" stroke-width="0.25" text-anchor="middle" fill="#000" >+</text>
<text x="370.00" y="453.60" font-size="7.5" font-weight="bold" stroke="#000" stroke-width="0.25" text-anchor="middle" fill="#000" >+</text>
<text x="382.80" y="453.60" font-size="7.5" font-weight="bold" stroke="#000" stroke-width="0.25" text-anchor="middle" fill="#000" >+</text>
<text x="394.60" y="453.60" font-size="7.5" font-weight="bold" stroke="#000" stroke-width="0.25" text-anchor="middle" fill="#000" >-</text>
<text x="406.70" y="453.60" font-size="7.5" font-weight="bold" stroke="#000" stroke-width="0.25" text-anchor="middle" fill="#000" >+</text>
<text x="421.00" y="453.60" font-size="7.5" font-weight="bold" stroke="#000" stroke-width="0.25" text-anchor="middle" fill="#000" >+</text>
<text x="433.00" y="453.60" font-size="7.5" font-weight="bold" stroke="#000" stroke-width="0.25" text-anchor="middle" fill="#000" >+</text>
<text x="339.20" y="468.40" font-size="8.3" stroke="#000" stroke-width="0.18" text-anchor="end" fill="#000" >P-AKT</text>
<text x="339.20" y="483.60" font-size="8.3" stroke="#000" stroke-width="0.18" text-anchor="end" fill="#000" >AKT</text>
<rect x="341.60" y="458.90" width="96.30" height="13.30" fill="#e3e3e3" stroke="#000" stroke-width="1.15"/>
<rect x="341.60" y="473.50" width="96.30" height="13.50" fill="#e1e1e1" stroke="#000" stroke-width="1.15"/>
<g filter="url(#bl2)">
<ellipse cx="346" cy="466.5" rx="4" ry="2.5" fill="#c8c8c8"/>
<ellipse cx="395.5" cy="466.5" rx="4" ry="2.5" fill="#c8c8c8"/>
<ellipse cx="358.4" cy="466.3" rx="5.6" ry="4.0" fill="#8a8a8a"/>
<ellipse cx="370.2" cy="466.3" rx="5.6" ry="4.0" fill="#8a8a8a"/>
<ellipse cx="381.8" cy="466.3" rx="5.6" ry="4.0" fill="#8a8a8a"/>
<ellipse cx="407" cy="466.3" rx="6.4" ry="4.4" fill="#6e6e6e"/>
<ellipse cx="419" cy="466.3" rx="6.4" ry="4.4" fill="#6e6e6e"/>
<ellipse cx="430.4" cy="466.3" rx="6.4" ry="4.4" fill="#6e6e6e"/>
</g>
<g filter="url(#bl)">
<ellipse cx="358.4" cy="466.6" rx="4.9" ry="1.5" fill="#000"/>
<ellipse cx="370.2" cy="466.6" rx="4.9" ry="1.5" fill="#000"/>
<ellipse cx="381.8" cy="466.6" rx="4.9" ry="1.5" fill="#000"/>
<ellipse cx="407" cy="467" rx="5.8" ry="1.9" fill="#000"/>
<ellipse cx="419" cy="467" rx="5.8" ry="1.9" fill="#000"/>
<ellipse cx="430.4" cy="467" rx="5.4" ry="1.9" fill="#000"/>
<ellipse cx="348.2" cy="479.7" rx="4.4" ry="1.25" fill="#000"/>
<ellipse cx="360.2" cy="479.7" rx="4.4" ry="1.25" fill="#000"/>
<ellipse cx="372.2" cy="479.7" rx="4.4" ry="1.25" fill="#000"/>
<ellipse cx="384.2" cy="479.7" rx="4.4" ry="1.25" fill="#000"/>
<ellipse cx="396.2" cy="479.7" rx="4.4" ry="1.25" fill="#000"/>
<ellipse cx="408.2" cy="479.7" rx="4.4" ry="1.25" fill="#000"/>
<ellipse cx="419.8" cy="479.7" rx="4.4" ry="1.25" fill="#000"/>
<ellipse cx="431.6" cy="479.7" rx="4.4" ry="1.25" fill="#000"/>
</g>
<rect x="371.50" y="598.51" width="11.50" height="1.99" fill="#000" stroke="none" stroke-width="0"/>
<line x1="392.25" y1="544.42" x2="392.25" y2="540.05" stroke="#000" stroke-width="1.3" stroke-linecap="butt"/>
<line x1="389.75" y1="540.05" x2="394.75" y2="540.05" stroke="#000" stroke-width="1.3" stroke-linecap="butt"/>
<rect x="387.00" y="544.42" width="10.50" height="55.58" fill="#fff" stroke="#000" stroke-width="1.3"/>
<rect x="401.70" y="598.51" width="11.80" height="1.99" fill="#000" stroke="none" stroke-width="0"/>
<line x1="422.55" y1="514.64" x2="422.55" y2="508.29" stroke="#000" stroke-width="1.3" stroke-linecap="butt"/>
<line x1="420.05" y1="508.29" x2="425.05" y2="508.29" stroke="#000" stroke-width="1.3" stroke-linecap="butt"/>
<rect x="416.50" y="514.14" width="12.10" height="86.36" fill="#000" stroke="none" stroke-width="0"/>
<line x1="369.60" y1="500.15" x2="369.60" y2="600.60" stroke="#000" stroke-width="1.4" stroke-linecap="butt"/>
<line x1="366.20" y1="600.00" x2="430.80" y2="600.00" stroke="#000" stroke-width="1.4" stroke-linecap="butt"/>
<line x1="366.20" y1="600.00" x2="369.60" y2="600.00" stroke="#000" stroke-width="1.2" stroke-linecap="butt"/>
<text x="365.00" y="602.40" font-size="7.0" font-weight="bold" stroke="#000" stroke-width="0.25" text-anchor="end" fill="#000" >0.0</text>
<line x1="366.20" y1="580.15" x2="369.60" y2="580.15" stroke="#000" stroke-width="1.2" stroke-linecap="butt"/>
<text x="365.00" y="582.55" font-size="7.0" font-weight="bold" stroke="#000" stroke-width="0.25" text-anchor="end" fill="#000" >0.5</text>
<line x1="366.20" y1="560.30" x2="369.60" y2="560.30" stroke="#000" stroke-width="1.2" stroke-linecap="butt"/>
<text x="365.00" y="562.70" font-size="7.0" font-weight="bold" stroke="#000" stroke-width="0.25" text-anchor="end" fill="#000" >1.0</text>
<line x1="366.20" y1="540.45" x2="369.60" y2="540.45" stroke="#000" stroke-width="1.2" stroke-linecap="butt"/>
<text x="365.00" y="542.85" font-size="7.0" font-weight="bold" stroke="#000" stroke-width="0.25" text-anchor="end" fill="#000" >1.5</text>
<line x1="366.20" y1="520.60" x2="369.60" y2="520.60" stroke="#000" stroke-width="1.2" stroke-linecap="butt"/>
<text x="365.00" y="523.00" font-size="7.0" font-weight="bold" stroke="#000" stroke-width="0.25" text-anchor="end" fill="#000" >2.0</text>
<line x1="366.20" y1="500.75" x2="369.60" y2="500.75" stroke="#000" stroke-width="1.2" stroke-linecap="butt"/>
<text x="365.00" y="503.15" font-size="7.0" font-weight="bold" stroke="#000" stroke-width="0.25" text-anchor="end" fill="#000" >2.5</text>
<line x1="377.00" y1="600.00" x2="377.00" y2="603.50" stroke="#000" stroke-width="1.2" stroke-linecap="butt"/>
<line x1="392.20" y1="600.00" x2="392.20" y2="603.50" stroke="#000" stroke-width="1.2" stroke-linecap="butt"/>
<line x1="407.50" y1="600.00" x2="407.50" y2="603.50" stroke="#000" stroke-width="1.2" stroke-linecap="butt"/>
<line x1="422.50" y1="600.00" x2="422.50" y2="603.50" stroke="#000" stroke-width="1.2" stroke-linecap="butt"/>
<text transform="translate(349.00,551.00) rotate(-90)" font-size="8" font-weight="bold" stroke="#000" stroke-width="0.25" text-anchor="middle" letter-spacing="0.35" xml:space="preserve">P-AKT/Total AKT</text>
<text x="422.20" y="507.30" font-size="8.5" font-weight="bold" stroke="#000" stroke-width="0.25" text-anchor="middle" fill="#000" >*</text>
<text x="368.60" y="614.00" font-size="7.5" stroke="#000" stroke-width="0.18" text-anchor="end" fill="#000" >Insulin:</text>
<text x="377.00" y="611.50" font-size="7.5" font-weight="bold" stroke="#000" stroke-width="0.25" text-anchor="middle" fill="#000" >–</text>
<text x="392.20" y="611.50" font-size="7.5" font-weight="bold" stroke="#000" stroke-width="0.25" text-anchor="middle" fill="#000" >+</text>
<text x="407.50" y="611.50" font-size="7.5" font-weight="bold" stroke="#000" stroke-width="0.25" text-anchor="middle" fill="#000" >–</text>
<text x="422.50" y="611.50" font-size="7.5" font-weight="bold" stroke="#000" stroke-width="0.25" text-anchor="middle" fill="#000" >+</text>
<line x1="370.60" y1="614.40" x2="398.60" y2="614.40" stroke="#000" stroke-width="1.2" stroke-linecap="butt"/>
<line x1="404.00" y1="614.40" x2="430.40" y2="614.40" stroke="#000" stroke-width="1.2" stroke-linecap="butt"/>
<text x="385.00" y="622.00" font-size="6.8" font-weight="bold" stroke="#000" stroke-width="0.25" text-anchor="middle" fill="#000" >+/+</text>
<text x="414.20" y="622.00" font-size="6.8" font-weight="bold" stroke="#000" stroke-width="0.25" text-anchor="middle" fill="#000" >-/-</text>
</svg>
</body></html>
